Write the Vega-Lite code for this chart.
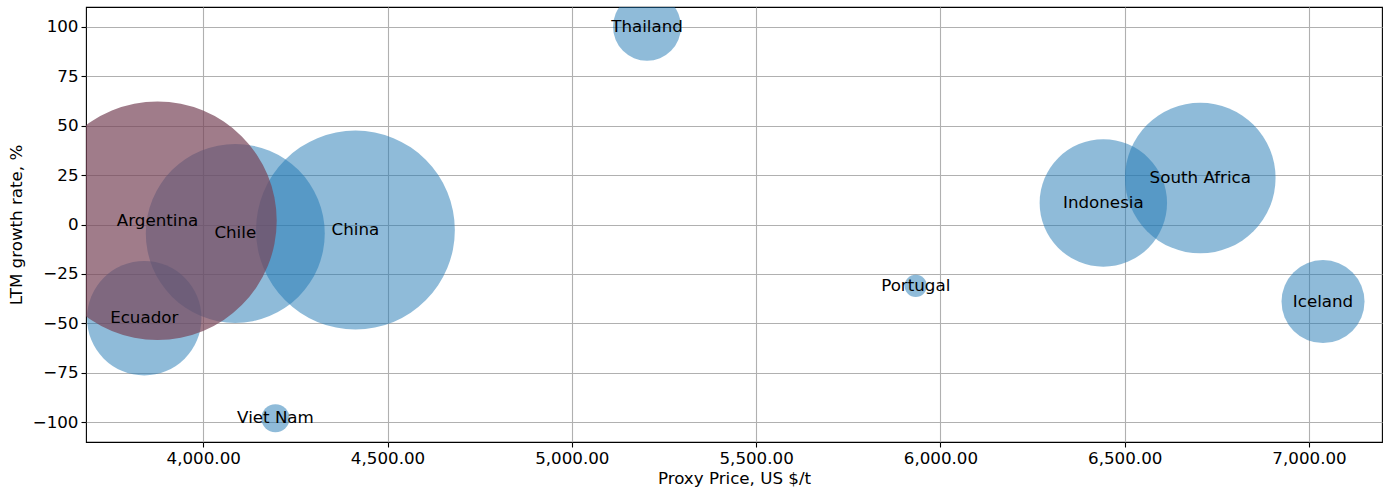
{
  "$schema": "https://vega.github.io/schema/vega-lite/v6.json",
  "width": 1296,
  "height": 435,
  "autosize": {"type": "none"},
  "padding": {"left": 86, "top": 7, "right": 7, "bottom": 47},
  "background": "white",
  "config": {
    "font": "DejaVu Sans",
    "view": {"stroke": "black", "strokeWidth": 1.1},
    "axis": {
      "domain": false,
      "grid": true,
      "gridColor": "#b0b0b0",
      "gridWidth": 1.1,
      "tickColor": "black",
      "tickSize": 5,
      "tickWidth": 1.1,
      "labelFont": "DejaVu Sans",
      "labelFontSize": 16.7,
      "labelColor": "black",
      "labelPadding": 3,
      "titleFont": "DejaVu Sans",
      "titleFontSize": 16.7,
      "titleFontWeight": "normal",
      "titleColor": "black"
    }
  },
  "data": {
    "values": [
      {"country": "Thailand", "price": 5204, "growth": 100, "volume": 36.3},
      {"country": "Chile", "price": 4087, "growth": -4.5, "volume": 251.6},
      {"country": "China", "price": 4413, "growth": -2.8, "volume": 310.4},
      {"country": "Ecuador", "price": 3840, "growth": -47.4, "volume": 102.8},
      {"country": "Viet Nam", "price": 4196, "growth": -98, "volume": 6.2},
      {"country": "Portugal", "price": 5933, "growth": -31, "volume": 3.9},
      {"country": "Indonesia", "price": 6442, "growth": 10.9, "volume": 127.5},
      {"country": "South Africa", "price": 6705, "growth": 23.5, "volume": 178.1},
      {"country": "Iceland", "price": 7038, "growth": -39, "volume": 54.1},
      {"country": "Argentina", "price": 3876, "growth": 1.9, "volume": 446.4}
    ]
  },
  "encoding": {
    "x": {
      "field": "price",
      "type": "quantitative",
      "scale": {"domain": [3682, 7198], "nice": false, "zero": false},
      "axis": {"values": [4000, 4500, 5000, 5500, 6000, 6500, 7000], "format": ",.2f", "title": "Proxy Price, US $/t", "titlePadding": 4}
    },
    "y": {
      "field": "growth",
      "type": "quantitative",
      "scale": {"domain": [-110, 110], "nice": false, "zero": false},
      "axis": {"values": [-100, -75, -50, -25, 0, 25, 50, 75, 100], "title": "LTM growth rate, %", "titlePadding": 7}
    }
  },
  "layer": [
    {
      "mark": {"type": "circle", "clip": true, "strokeWidth": 0},
      "encoding": {
        "size": {
          "field": "volume",
          "type": "quantitative",
          "scale": {"domain": [0, 500], "range": [0, 63662]},
          "legend": null
        },
        "color": {
          "condition": {"test": "datum.country === 'Argentina'", "value": "#774458"},
          "value": "#1f77b4"
        },
        "opacity": {
          "condition": {"test": "datum.country === 'Argentina'", "value": 0.7},
          "value": 0.5
        }
      }
    },
    {
      "mark": {"type": "text", "fontSize": 16.7, "color": "black", "align": "center", "baseline": "middle", "font": "DejaVu Sans"},
      "encoding": {"text": {"field": "country", "type": "nominal"}}
    }
  ]
}
